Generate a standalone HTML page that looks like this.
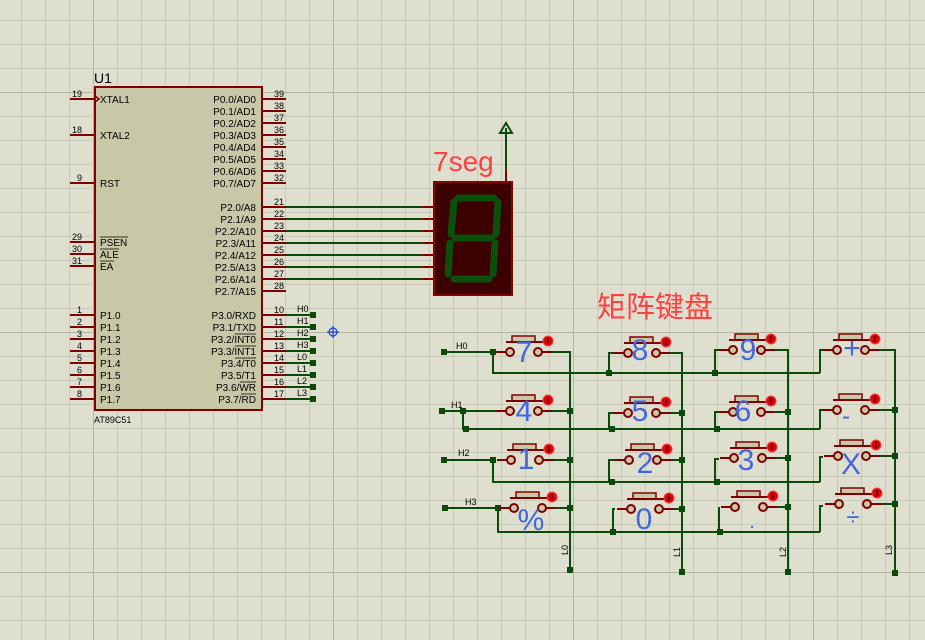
<!DOCTYPE html>
<html><head><meta charset="utf-8"><style>
html,body{margin:0;padding:0;background:#dfdfd0;}
svg{display:block;font-family:"Liberation Sans","Noto Sans CJK SC",sans-serif;}
</style></head><body>
<svg width="925" height="640" viewBox="0 0 925 640" xmlns="http://www.w3.org/2000/svg">
<defs>
<pattern id="g" x="21" y="20" width="24" height="24" patternUnits="userSpaceOnUse">
<path d="M0 0H24M0 0V24" stroke="#c4c4b4" stroke-width="1.5" fill="none"/>
</pattern>
<pattern id="G" x="93" y="92" width="240" height="240" patternUnits="userSpaceOnUse">
<path d="M0 0H240M0 0V240" stroke="#b4b4a4" stroke-width="2" fill="none"/>
</pattern>
<g id="btn">
<path d="M-28 0H-18M18 0H28" stroke="#800000" stroke-width="2"/>
<circle cx="-14" cy="0" r="4" fill="#c8c8a8" stroke="#800000" stroke-width="2"/>
<circle cx="14" cy="0" r="4" fill="#c8c8a8" stroke="#800000" stroke-width="2"/>
<rect x="-12" y="-16" width="23" height="6" fill="#c8c8a8" stroke="#800000" stroke-width="1.5"/>
<path d="M-18 -10H19" stroke="#800000" stroke-width="2"/>
<circle cx="24" cy="-11" r="5" fill="#e00000" stroke="#ff4040"/>
<path d="M24 -14V-8" stroke="#400000" stroke-width="1.5"/>
</g>
</defs>
<rect width="925" height="640" fill="url(#g)"/>
<rect width="925" height="640" fill="url(#G)"/>

<!-- chip -->
<text x="94" y="83" font-size="14" fill="#000">U1</text>
<rect x="95" y="87" width="167" height="323" fill="#c8c8a8" stroke="#800000" stroke-width="2"/>
<g stroke="#800000" stroke-width="2">
<path d="M70 99H94M70 135H94M70 183H94M70 242H94M70 254H94M70 266H94"/>
<path d="M70 315H94M70 327H94M70 339H94M70 351H94M70 363H94M70 375H94M70 387H94M70 399H94"/>
<path d="M262 99H286M262 111H286M262 123H286M262 135H286M262 147H286M262 159H286M262 171H286M262 183H286"/>
<path d="M262 207H286M262 219H286M262 231H286M262 243H286M262 255H286M262 267H286M262 279H286M262 291H286"/>
<path d="M262 315H286M262 327H286M262 339H286M262 351H286M262 363H286M262 375H286M262 387H286M262 399H286"/>
</g>
<g font-size="10" fill="#000">
<text x="100" y="103">XTAL1</text><text x="100" y="139">XTAL2</text><text x="100" y="187">RST</text>
<text x="100" y="246">PSEN</text><text x="100" y="258">ALE</text><text x="100" y="270">EA</text>
<path d="M100 237H128M100 249H119M100 261H114" stroke="#000" stroke-width="0.8"/>
<text x="100" y="319">P1.0</text><text x="100" y="331">P1.1</text><text x="100" y="343">P1.2</text><text x="100" y="355">P1.3</text>
<text x="100" y="367">P1.4</text><text x="100" y="379">P1.5</text><text x="100" y="391">P1.6</text><text x="100" y="403">P1.7</text>
<g text-anchor="end">
<text x="256" y="103">P0.0/AD0</text><text x="256" y="115">P0.1/AD1</text><text x="256" y="127">P0.2/AD2</text><text x="256" y="139">P0.3/AD3</text>
<text x="256" y="151">P0.4/AD4</text><text x="256" y="163">P0.5/AD5</text><text x="256" y="175">P0.6/AD6</text><text x="256" y="187">P0.7/AD7</text>
<text x="256" y="211">P2.0/A8</text><text x="256" y="223">P2.1/A9</text><text x="256" y="235">P2.2/A10</text><text x="256" y="247">P2.3/A11</text>
<text x="256" y="259">P2.4/A12</text><text x="256" y="271">P2.5/A13</text><text x="256" y="283">P2.6/A14</text><text x="256" y="295">P2.7/A15</text>
<text x="256" y="319">P3.0/RXD</text><text x="256" y="331">P3.1/TXD</text><text x="256" y="343">P3.2/INT0</text><text x="256" y="355">P3.3/INT1</text>
<text x="256" y="367">P3.4/T0</text><text x="256" y="379">P3.5/T1</text><text x="256" y="391">P3.6/WR</text><text x="256" y="403">P3.7/RD</text>
</g>
<path d="M235 334H256M235 346H256M235 358H256M240 382H256M241 394H256" stroke="#000" stroke-width="0.8"/>
<text x="94" y="423" font-size="9">AT89C51</text>
<g font-size="9">
<text x="72" y="97">19</text><text x="72" y="133">18</text><text x="77" y="181">9</text>
<text x="72" y="240">29</text><text x="72" y="252">30</text><text x="72" y="264">31</text>
<text x="77" y="313">1</text><text x="77" y="325">2</text><text x="77" y="337">3</text><text x="77" y="349">4</text>
<text x="77" y="361">5</text><text x="77" y="373">6</text><text x="77" y="385">7</text><text x="77" y="397">8</text>
<text x="274" y="97">39</text><text x="274" y="109">38</text><text x="274" y="121">37</text><text x="274" y="133">36</text>
<text x="274" y="145">35</text><text x="274" y="157">34</text><text x="274" y="169">33</text><text x="274" y="181">32</text>
<text x="274" y="205">21</text><text x="274" y="217">22</text><text x="274" y="229">23</text><text x="274" y="241">24</text>
<text x="274" y="253">25</text><text x="274" y="265">26</text><text x="274" y="277">27</text><text x="274" y="289">28</text>
<text x="274" y="313">10</text><text x="274" y="325">11</text><text x="274" y="337">12</text><text x="274" y="349">13</text>
<text x="274" y="361">14</text><text x="274" y="373">15</text><text x="274" y="385">16</text><text x="274" y="397">17</text>
<text x="297" y="312">H0</text><text x="297" y="324">H1</text><text x="297" y="336">H2</text><text x="297" y="348">H3</text>
<text x="297" y="360">L0</text><text x="297" y="372">L1</text><text x="297" y="384">L2</text><text x="297" y="396">L3</text>
</g>
</g>
<path d="M95 96l4 3l-4 3" fill="none" stroke="#800000" stroke-width="1.5"/>
<!-- P3 stubs -->
<g stroke="#0b4a0b" stroke-width="2">
<path d="M286 315H313M286 327H313M286 339H313M286 351H313M286 363H313M286 375H313M286 387H313M286 399H313"/>
</g>
<g fill="#0b4a0b">
<rect x="310" y="312" width="6" height="6"/><rect x="310" y="324" width="6" height="6"/><rect x="310" y="336" width="6" height="6"/><rect x="310" y="348" width="6" height="6"/>
<rect x="310" y="360" width="6" height="6"/><rect x="310" y="372" width="6" height="6"/><rect x="310" y="384" width="6" height="6"/><rect x="310" y="396" width="6" height="6"/>
</g>
<g stroke="#2040e0" stroke-width="1.2" fill="none"><circle cx="333" cy="332" r="4"/><path d="M327 332H339M333 326V338"/></g>

<!-- P2 wires to 7seg -->
<g stroke="#0b4a0b" stroke-width="2">
<path d="M286 207H422M286 219H422M286 231H422M286 243H422M286 255H422M286 267H422M286 279H422"/>
</g>
<g stroke="#800000" stroke-width="2">
<path d="M422 207H433M422 219H433M422 231H433M422 243H433M422 255H433M422 267H433M422 279H433"/>
<path d="M506 182V170"/>
</g>
<path d="M506 170V128" stroke="#0b4a0b" stroke-width="2"/>
<path d="M500 133L506 123L512 133Z" fill="none" stroke="#0b4a0b" stroke-width="2"/>
<text x="433" y="171" font-size="28" fill="#ff4040">7seg</text>
<rect x="434" y="182" width="78" height="113" fill="#3d0000" stroke="#8b0000" stroke-width="2"/>
<g stroke="#0a500a" stroke-width="7" stroke-linecap="round" fill="none">
<path d="M458 198H494"/>
<path d="M454 202L451 234"/>
<path d="M498 202L496 234"/>
<path d="M455 238H492"/>
<path d="M450 243L448 274"/>
<path d="M495 243L493 274"/>
<path d="M454 279H489"/>
</g>

<text x="597" y="317" font-size="29" fill="#ff4040">矩阵键盘</text>

<!-- keypad wires -->
<g stroke="#0b4a0b" stroke-width="2" fill="none">
<path d="M444 352H496M493 352V373H820M609 373V353H615M715 373V350H719M820 373V350H823"/>
<path d="M442 411H496M463 411V429H820M609 429V413H615M715 429V412H719M820 429V410H823"/>
<path d="M444 460H496M493 460V482H820M609 482V460H615M715 482V459H719M820 482V457H823"/>
<path d="M445 508H496M498 508V532H820M613 532V509H615M719 532V507H719M820 532V506H823"/>
<path d="M552 352H570V570M552 411H570M552 460H570M552 508H570"/>
<path d="M670 353H682V572M670 413H682M670 460H682M670 509H682"/>
<path d="M775 350H788V572M775 412H788M775 458H788M775 507H788"/>
<path d="M879 350H895V573M879 410H895M879 456H895M879 504H895"/>
</g>
<g fill="#0b4a0b">
<rect x="441" y="349" width="6" height="6"/><rect x="439" y="408" width="6" height="6"/><rect x="441" y="457" width="6" height="6"/><rect x="442" y="505" width="6" height="6"/>
<rect x="490" y="349" width="6" height="6"/><rect x="606" y="370" width="6" height="6"/><rect x="712" y="370" width="6" height="6"/>
<rect x="460" y="408" width="6" height="6"/><rect x="463" y="426" width="6" height="6"/><rect x="609" y="426" width="6" height="6"/><rect x="714" y="426" width="6" height="6"/>
<rect x="490" y="457" width="6" height="6"/><rect x="609" y="479" width="6" height="6"/><rect x="714" y="479" width="6" height="6"/>
<rect x="495" y="505" width="6" height="6"/><rect x="610" y="529" width="6" height="6"/><rect x="717" y="529" width="6" height="6"/>
<rect x="567" y="408" width="6" height="6"/><rect x="567" y="457" width="6" height="6"/><rect x="567" y="505" width="6" height="6"/><rect x="567" y="567" width="6" height="6"/>
<rect x="679" y="410" width="6" height="6"/><rect x="679" y="457" width="6" height="6"/><rect x="679" y="506" width="6" height="6"/><rect x="679" y="569" width="6" height="6"/>
<rect x="785" y="409" width="6" height="6"/><rect x="785" y="455" width="6" height="6"/><rect x="785" y="504" width="6" height="6"/><rect x="785" y="569" width="6" height="6"/>
<rect x="892" y="407" width="6" height="6"/><rect x="892" y="453" width="6" height="6"/><rect x="892" y="501" width="6" height="6"/><rect x="892" y="570" width="6" height="6"/>
</g>
<g font-size="9" fill="#000">
<text x="456" y="349">H0</text><text x="451" y="408">H1</text><text x="458" y="456">H2</text><text x="465" y="505">H3</text>
<text transform="translate(568,555) rotate(-90)">L0</text>
<text transform="translate(680,557) rotate(-90)">L1</text>
<text transform="translate(786,557) rotate(-90)">L2</text>
<text transform="translate(892,555) rotate(-90)">L3</text>
</g>
<use href="#btn" x="524" y="352"/><use href="#btn" x="642" y="353"/><use href="#btn" x="747" y="350"/><use href="#btn" x="851" y="350"/>
<use href="#btn" x="524" y="411"/><use href="#btn" x="642" y="413"/><use href="#btn" x="747" y="412"/><use href="#btn" x="851" y="410"/>
<use href="#btn" x="525" y="460"/><use href="#btn" x="643" y="460"/><use href="#btn" x="748" y="458"/><use href="#btn" x="852" y="456"/>
<use href="#btn" x="528" y="508"/><use href="#btn" x="645" y="509"/><use href="#btn" x="749" y="507"/><use href="#btn" x="853" y="504"/>
<g font-size="30" fill="#4466dd" text-anchor="middle">
<text x="524" y="362">7</text><text x="640" y="360">8</text><text x="748" y="360">9</text><text x="852" y="358">+</text>
<text x="524" y="421">4</text><text x="640" y="421">5</text><text x="743" y="421">6</text><text x="846" y="424" font-size="24">-</text>
<text x="526" y="469">1</text><text x="645" y="473">2</text><text x="746" y="470">3</text><text x="851" y="474">X</text>
<text x="531" y="530">%</text><text x="644" y="529">0</text><text x="752" y="528" font-size="20">.</text><text x="853" y="525" font-size="24">÷</text>
</g>
</svg>
</body></html>
